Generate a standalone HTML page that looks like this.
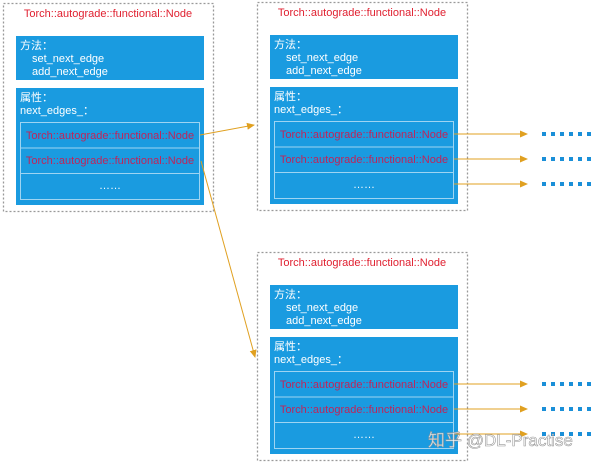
<!DOCTYPE html>
<html><head><meta charset="utf-8"><style>
html,body{margin:0;padding:0;background:#fff;width:600px;height:466px;overflow:hidden}
svg text{font-family:"Liberation Sans","Noto Sans CJK SC",sans-serif;font-size:11px}
</style></head><body>
<svg width="600" height="466" viewBox="0 0 600 466" xmlns="http://www.w3.org/2000/svg">
<defs>
<marker id="ah" markerWidth="8" markerHeight="8" refX="7" refY="4" orient="auto" markerUnits="userSpaceOnUse">
<path d="M0,0.5 L8,4 L0,7.5 z" fill="#e0a020"/></marker>
<g id="node">
<rect x="0.5" y="0.5" width="210" height="208" fill="none" stroke="#999" stroke-width="1.3" stroke-dasharray="2,2"/>
<text x="105" y="14" text-anchor="middle" fill="#e02030">Torch::autograde::functional::Node</text>
<rect x="13" y="33" width="188" height="44" fill="#1a9be0"/>
<text x="17" y="46" fill="#fff">方法：</text>
<text x="29" y="59" fill="#fff">set_next_edge</text>
<text x="29" y="72" fill="#fff">add_next_edge</text>
<rect x="13" y="85" width="188" height="117" fill="#1a9be0"/>
<text x="17" y="98" fill="#fff">属性：</text>
<text x="17" y="111" fill="#fff">next_edges_：</text>
<rect x="17.5" y="119.5" width="179" height="77" fill="none" stroke="#9ed4f2" stroke-width="1"/>
<line x1="17.5" y1="145" x2="196.5" y2="145" stroke="#9ed4f2"/>
<line x1="17.5" y1="170.5" x2="196.5" y2="170.5" stroke="#9ed4f2"/>
<text x="107" y="136" text-anchor="middle" fill="#c0245a">Torch::autograde::functional::Node</text>
<text x="107" y="161" text-anchor="middle" fill="#c0245a">Torch::autograde::functional::Node</text>
<text x="107" y="186" text-anchor="middle" fill="#fff">……</text>
</g>
<g id="dots" fill="#1a8fd8">
<rect x="542" y="0" width="4" height="4"/><rect x="551" y="0" width="4" height="4"/><rect x="560" y="0" width="4" height="4"/>
<rect x="569" y="0" width="4" height="4"/><rect x="578" y="0" width="4" height="4"/><rect x="587" y="0" width="4" height="4"/>
</g>
</defs>
<use href="#node" x="3" y="3"/>
<use href="#node" x="257" y="2"/>
<use href="#node" x="257" y="252"/>
<g stroke="#e0a020" stroke-width="1" fill="none">
<line x1="200" y1="135" x2="254" y2="125" marker-end="url(#ah)"/>
<line x1="201" y1="161" x2="255" y2="357" marker-end="url(#ah)"/>
<line x1="454" y1="134" x2="527" y2="134" marker-end="url(#ah)"/>
<line x1="454" y1="159" x2="527" y2="159" marker-end="url(#ah)"/>
<line x1="454" y1="184" x2="527" y2="184" marker-end="url(#ah)"/>
<line x1="454" y1="384" x2="527" y2="384" marker-end="url(#ah)"/>
<line x1="454" y1="409" x2="527" y2="409" marker-end="url(#ah)"/>
<line x1="454" y1="434" x2="527" y2="434" marker-end="url(#ah)"/>
</g>
<use href="#dots" y="132"/><use href="#dots" y="157"/><use href="#dots" y="182"/>
<use href="#dots" y="382"/><use href="#dots" y="407"/><use href="#dots" y="432"/>
<text x="428" y="446" fill="#fff" fill-opacity="0.85" stroke="#999" stroke-width="0.6" style="font-size:17px">知乎 @DL-Practise</text>
</svg>
</body></html>
